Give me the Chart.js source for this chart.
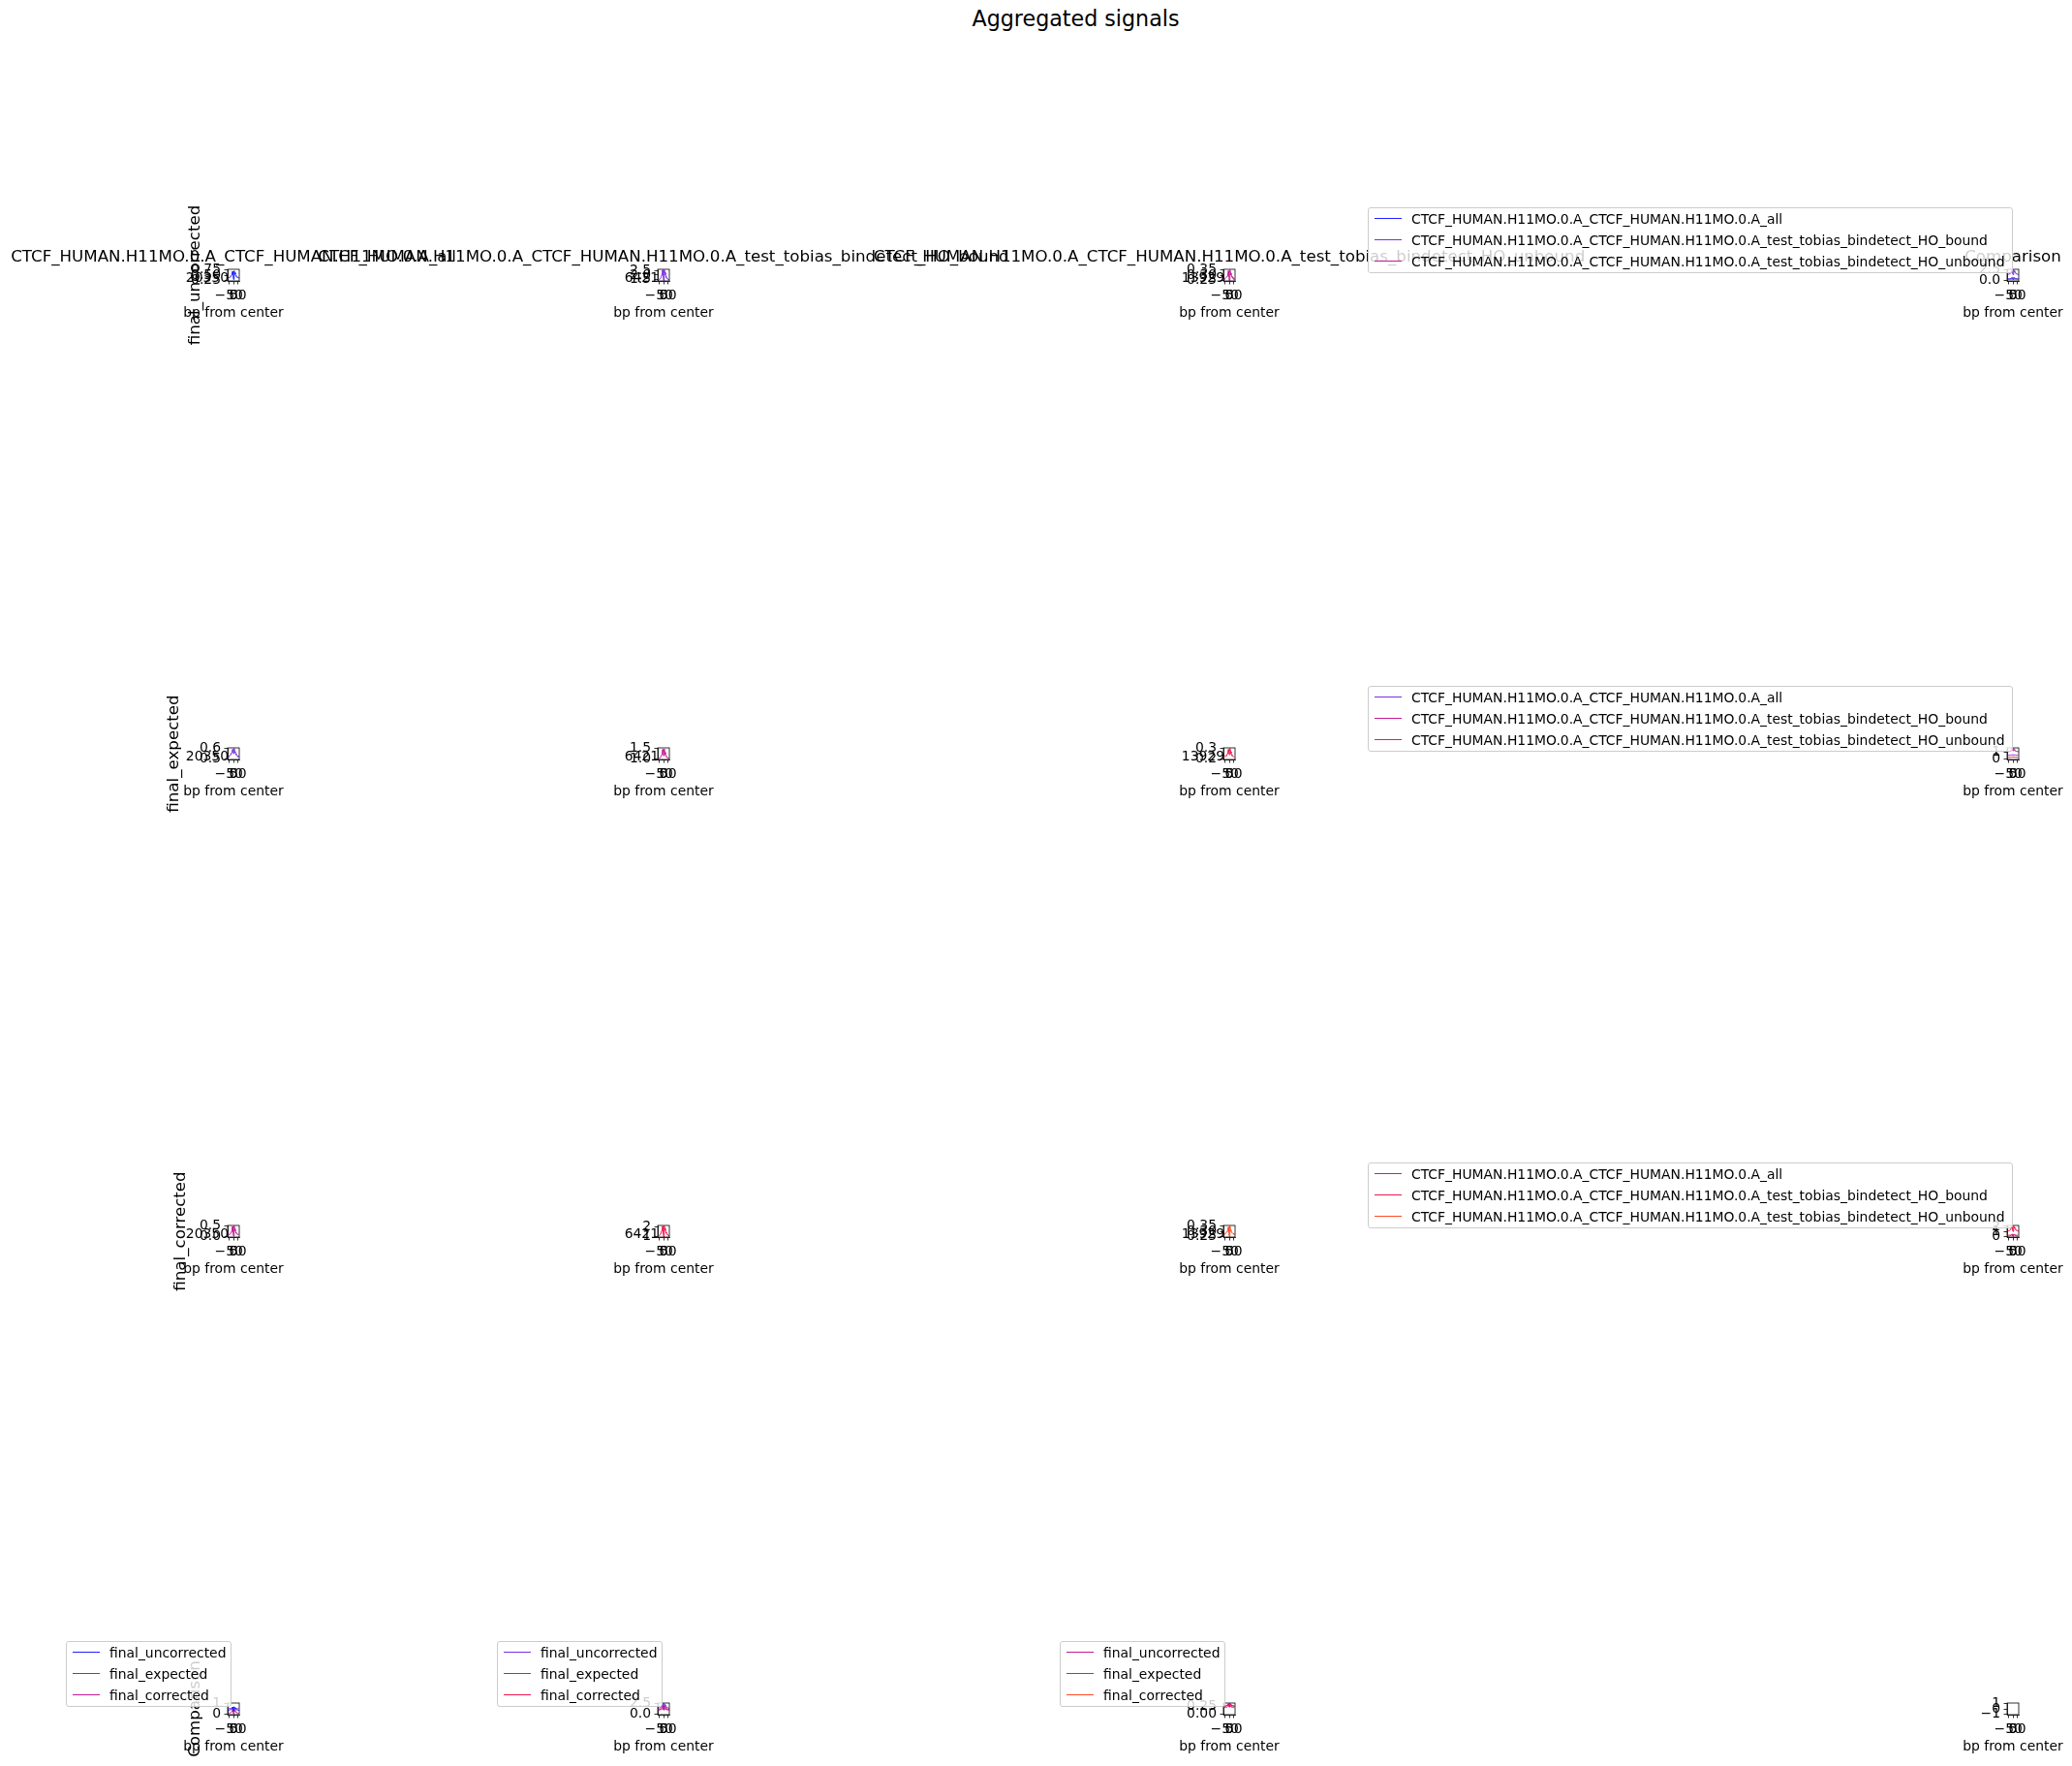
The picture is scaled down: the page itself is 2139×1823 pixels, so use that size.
<!DOCTYPE html>
<html><head><meta charset="utf-8">
<script src="https://cdn.jsdelivr.net/npm/chart.js@4.4.1/dist/chart.umd.min.js"></script>
<style>
html,body{margin:0;padding:0;background:#fff;}
#fig{position:relative;width:2139px;height:1823px;overflow:hidden;font-family:"DejaVu Sans",sans-serif;background:#fff;}
canvas.ax{position:absolute;}
.sup{position:absolute;left:41px;width:2139px;text-align:center;font-size:22.2px;line-height:26px;}
.lg{position:absolute;box-sizing:border-box;border:1px solid #cccccc;border-radius:3px;background:rgba(255,255,255,0.8);z-index:5;font-size:13.9px;color:#000;}
.lg .row{height:22px;position:relative;white-space:nowrap;}
.lg .ln{position:absolute;left:6px;top:10px;width:28px;height:0;border-top:1.5px solid;}
.lg .tx{position:absolute;left:44px;top:0;line-height:22px;}
</style></head>
<body><div id="fig"><div class="sup" style="top:6px">Aggregated signals</div></div>
<script>
// ---------------- data ----------------
const bpFromCenter = [-60,-55,-50,-45,-40,-35,-30,-25,-20,-15,-10,-5,0,5,10,15,20,25,30,35,40,45,50,55,60];
const xTickValues = [-50, 0, 50];
const signalNames = ["final_uncorrected", "final_expected", "final_corrected"];
const siteSetNames = [
  "CTCF_HUMAN.H11MO.0.A_CTCF_HUMAN.H11MO.0.A_all",
  "CTCF_HUMAN.H11MO.0.A_CTCF_HUMAN.H11MO.0.A_test_tobias_bindetect_HO_bound",
  "CTCF_HUMAN.H11MO.0.A_CTCF_HUMAN.H11MO.0.A_test_tobias_bindetect_HO_unbound"
];
const siteCounts = ["20350", "6421", "13929"];
const columnTitles = [siteSetNames[0], siteSetNames[1], siteSetNames[2], "Comparison"];
const rowLabels = ["final_uncorrected", "final_expected", "final_corrected", "Comparison"];

const uncorrectedAll     = [0.36,0.37,0.38,0.39,0.40,0.42,0.44,0.47,0.52,0.60,0.68,0.55,0.30,0.52,0.70,0.62,0.53,0.47,0.44,0.42,0.40,0.39,0.38,0.37,0.36];
const uncorrectedBound   = [1.45,1.48,1.50,1.53,1.57,1.62,1.70,1.82,1.98,2.25,2.55,2.05,1.40,2.00,2.58,2.30,2.02,1.85,1.72,1.64,1.58,1.54,1.51,1.48,1.46];
const uncorrectedUnbound = [0.26,0.26,0.26,0.27,0.27,0.27,0.28,0.28,0.29,0.31,0.34,0.31,0.25,0.30,0.35,0.32,0.30,0.29,0.28,0.28,0.27,0.27,0.26,0.26,0.26];
const expectedAll        = [0.52,0.52,0.52,0.53,0.53,0.53,0.54,0.55,0.56,0.57,0.59,0.58,0.55,0.58,0.60,0.57,0.56,0.55,0.54,0.53,0.53,0.53,0.52,0.52,0.52];
const expectedBound      = [1.02,1.03,1.04,1.05,1.06,1.08,1.10,1.14,1.20,1.30,1.45,1.35,1.15,1.36,1.48,1.32,1.21,1.14,1.10,1.08,1.06,1.05,1.04,1.03,1.02];
const expectedUnbound    = [0.22,0.22,0.22,0.22,0.23,0.23,0.23,0.24,0.25,0.26,0.29,0.27,0.24,0.27,0.30,0.27,0.25,0.24,0.23,0.23,0.23,0.22,0.22,0.22,0.22];
const correctedAll       = [0.08,0.08,0.09,0.10,0.11,0.13,0.15,0.19,0.25,0.35,0.48,0.20,0.02,0.22,0.50,0.36,0.26,0.19,0.15,0.13,0.11,0.10,0.09,0.08,0.08];
const correctedBound     = [1.05,1.08,1.10,1.13,1.18,1.24,1.32,1.44,1.60,1.80,2.05,1.45,1.00,1.48,2.08,1.82,1.62,1.46,1.34,1.26,1.20,1.15,1.11,1.08,1.06];
const correctedUnbound   = [0.27,0.27,0.27,0.28,0.28,0.28,0.29,0.29,0.30,0.31,0.34,0.29,0.25,0.29,0.35,0.31,0.30,0.29,0.29,0.28,0.28,0.28,0.27,0.27,0.27];

const yTicksUncorrected = [[0.25,0.50,0.75], [1.5,2.0,2.5], [0.25,0.30,0.35], [0.0,2.5]];
const yTicksExpected    = [[0.5,0.6], [1.0,1.5], [0.2,0.3], [0,1]];
const yTicksCorrected   = [[0.0,0.5], [1,2], [0.25,0.30,0.35], [0,1,2]];
const yTicksComparison  = [[0,1], [0.0,2.5], [0.00,0.25], [-1,0,1]];

const palette = ["#1f1fff", "#7a2ee0", "#c41a96", "#f0164e", "#ff4a28"];

// ---------------- layout (pixels) ----------------
const colCenters = [241, 685, 1269, 2078];
const rowCenters = [284, 778, 1271, 1764];
const AX = 12;
const yLabelX = [202, 180, 187, 202];
const legendBoxes = [
  {left:1412, top:214, width:666}, {left:1412, top:708, width:666}, {left:1412, top:1200, width:666},
  {left:68, top:1694, width:171}, {left:513, top:1694, width:171}, {left:1094, top:1694, width:171}
];

const signals = [
  [uncorrectedAll, uncorrectedBound, uncorrectedUnbound],
  [expectedAll, expectedBound, expectedUnbound],
  [correctedAll, correctedBound, correctedUnbound]
];
const yTicksByRow = [yTicksUncorrected, yTicksExpected, yTicksCorrected, yTicksComparison];

function fmt(v, ticks) {
  let dec = 0;
  ticks.forEach(t => { const s = String(t); const i = s.indexOf('.'); if (i >= 0) dec = Math.max(dec, s.length - i - 1); });
  if (ticks.some(t => !Number.isInteger(t))) dec = Math.max(dec, 1);
  return v.toFixed(dec).replace('-', '\u2212');
}

const FONT = '"DejaVu Sans", sans-serif';
const framePlugin = {
  id: 'frame',
  afterDraw(chart, args, o) {
    const a = chart.chartArea, c = chart.ctx;
    c.save();
    c.strokeStyle = '#000'; c.lineWidth = 0.8;
    c.strokeRect(a.left, a.top, a.right - a.left, a.bottom - a.top);
    c.fillStyle = '#000';
    const mx = (a.left + a.right) / 2, my = (a.top + a.bottom) / 2;
    if (o.title) {
      c.font = '16.67px ' + FONT; c.textAlign = 'center'; c.textBaseline = 'alphabetic';
      c.fillText(o.title, mx, a.top - 8.3);
    }
    if (o.count) {
      c.font = '13.9px ' + FONT; c.textAlign = 'right'; c.textBaseline = 'middle';
      c.fillText(o.count, a.left + 1, a.bottom - 3);
    }
    c.font = '13.9px ' + FONT; c.textAlign = 'center'; c.textBaseline = 'middle';
    c.fillText(o.xlabel, mx, a.bottom + 33);
    if (o.ylabel) {
      c.translate(o.ylabelX, my); c.rotate(-Math.PI / 2);
      c.font = '16.67px ' + FONT; c.textAlign = 'center'; c.textBaseline = 'middle';
      c.fillText(o.ylabel, 0, 0);
    }
    c.restore();
  }
};

const fig = document.getElementById('fig');

function makeAxes(r, c, datasets) {
  const ticks = yTicksByRow[r][c];
  const HW = 430;
  const cx = colCenters[c], cy = rowCenters[r];
  const axLeft = cx - AX / 2, axTop = cy - AX / 2;
  const yW = 40, padTop = 100, xH = 41, padBottom = 70;
  const canvas = document.createElement('canvas');
  canvas.className = 'ax';
  const W = 2 * HW + AX, H = padTop + AX + xH + padBottom;
  const cLeft = cx - HW - AX / 2;
  canvas.style.left = cLeft + 'px';
  canvas.style.top = (axTop - padTop) + 'px';
  canvas.style.width = W + 'px'; canvas.style.height = H + 'px';
  canvas.width = W; canvas.height = H;
  fig.appendChild(canvas);
  const allVals = ticks.slice();
  datasets.forEach(d => d.data.forEach(p => allVals.push(p.y)));
  const lo = Math.min(...allVals), hi = Math.max(...allVals), pad = (hi - lo) * 0.05;
  new Chart(canvas, {
    type: 'line',
    data: { datasets },
    options: {
      responsive: false, animation: false, devicePixelRatio: 1,
      layout: { padding: { left: HW - yW, right: HW, top: padTop, bottom: padBottom } },
      plugins: {
        legend: { display: false }, tooltip: { enabled: false }, title: { display: false },
        frame: {
          title: r === 0 ? columnTitles[c] : '',
          ylabel: c === 0 ? rowLabels[r] : '',
          ylabelX: yLabelX[r] - cLeft,
          xlabel: 'bp from center',
          count: (r < 3 && c < 3) ? siteCounts[c] : ''
        }
      },
      elements: { point: { radius: 0 }, line: { borderWidth: 1, tension: 0 } },
      scales: {
        x: {
          type: 'linear', min: -62, max: 62,
          afterBuildTicks: s => { s.ticks = xTickValues.map(v => ({ value: v })); },
          afterFit: s => { s.height = xH; },
          ticks: { autoSkip: false, maxRotation: 0, padding: 3.5, color: '#000',
            font: { family: 'DejaVu Sans', size: 13.9 }, callback: v => String(v).replace('-', '\u2212') },
          grid: { drawOnChartArea: false, drawTicks: true, tickLength: 3.5, color: '#000', lineWidth: 0.8 },
          border: { display: true, color: '#000', width: 0.8 },
          title: { display: false }
        },
        y: {
          type: 'linear', min: lo - pad, max: hi + pad,
          afterBuildTicks: s => { s.ticks = ticks.map(v => ({ value: v })); },
          afterFit: s => { s.width = yW; },
          ticks: { autoSkip: false, padding: 3.5, color: '#000',
            font: { family: 'DejaVu Sans', size: 13.9 }, callback: v => fmt(v, ticks) },
          grid: { drawOnChartArea: false, drawTicks: true, tickLength: 3.5, color: '#000', lineWidth: 0.8 },
          border: { display: true, color: '#000', width: 0.8 },
          title: { display: false }
        }
      }
    },
    plugins: [framePlugin]
  });
}

function series(arr) { return bpFromCenter.map((x, i) => ({ x, y: arr[i] })); }

for (let r = 0; r < 4; r++) {
  for (let c = 0; c < 4; c++) {
    let ds = [];
    if (r < 3 && c < 3) {
      ds = [{ label: siteSetNames[c], data: series(signals[r][c]), borderColor: palette[r + c] }];
    } else if (r < 3 && c === 3) {
      ds = [0, 1, 2].map(k => ({ label: siteSetNames[k], data: series(signals[r][k]), borderColor: palette[r + k] }));
    } else if (r === 3 && c < 3) {
      ds = [0, 1, 2].map(k => ({ label: signalNames[k], data: series(signals[k][c]), borderColor: palette[k + c] }));
    }
    makeAxes(r, c, ds);
  }
}

// legends
function addLegend(box, labels, colors) {
  const d = document.createElement('div');
  d.className = 'lg';
  d.style.left = box.left + 'px'; d.style.top = box.top + 'px'; d.style.width = box.width + 'px';
  labels.forEach((t, i) => {
    const row = document.createElement('div'); row.className = 'row';
    const ln = document.createElement('div'); ln.className = 'ln'; ln.style.borderTopColor = colors[i];
    const tx = document.createElement('div'); tx.className = 'tx'; tx.textContent = t;
    row.appendChild(ln); row.appendChild(tx); d.appendChild(row);
  });
  fig.appendChild(d);
}
for (let r = 0; r < 3; r++) addLegend(legendBoxes[r], siteSetNames, [0, 1, 2].map(k => palette[r + k]));
for (let c = 0; c < 3; c++) addLegend(legendBoxes[3 + c], signalNames, [0, 1, 2].map(k => palette[k + c]));
</script>
</body></html>
